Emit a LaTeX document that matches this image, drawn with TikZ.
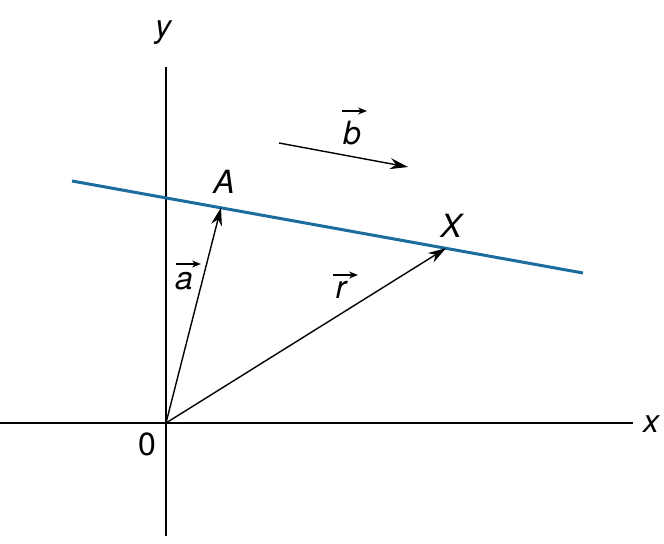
\documentclass[tikz,border=0pt]{standalone}
\usepackage{fontspec}
\setmainfont{TeX Gyre Heros}
\usepackage{tikz}
\usetikzlibrary{arrows.meta}
\definecolor{lineblue}{RGB}{28,108,158}

\begin{document}
\begin{tikzpicture}[x=0.5pt,y=-0.5pt,
        axis/.style={line width=0.7pt},
        vec/.style={line width=0.7pt,-{Stealth[length=9pt,width=5.5pt]}},
        tinyvec/.style={line width=0.6pt,-{Stealth[length=4.5pt,width=3.5pt]}},
        lbl/.style={font=\fontsize{16}{19}\selectfont\itshape},
        num/.style={font=\fontsize{16}{19}\selectfont}]
        \useasboundingbox (0,0) rectangle (664,544);
        % axes
        \coordinate (O) at (166,423);
        \coordinate (xleft) at (0,423);
        \coordinate (xright) at (633,423);
        \coordinate (ybottom) at (166,536);
        \coordinate (ytop) at (166,67);
        \draw [axis] (xleft) -- (xright);
        \draw [axis] (ybottom) -- (ytop);
        \node [lbl] (xlab) at (651,424) {x};
        \node [lbl] (ylab) at (163,33) {y};
        \node [num] (olab) at (147,444) {0};
        % the line
        \coordinate (L1) at (72,181);
        \coordinate (L2) at (583,273);
        \draw [lineblue,line width=1.5pt] (L1) -- (L2);
        \coordinate (A) at (221,207.6);
        \coordinate (X) at (446,248.2);
        \node [lbl] (Alab) at (224,182) {A};
        \node [lbl] (Xlab) at (451,226) {X};
        % vectors
        \draw [vec] (O) -- (A);
        \draw [vec] (O) -- (X);
        \coordinate (b0) at (279,143);
        \coordinate (b1) at (408,167);
        \draw [vec] (b0) -- (b1);
        % vector names
        \foreach \n/\x/\y/\ax/\ay in {a/184/281/176/264, r/341/290/333/275, b/352/133/342/111}{
            \node [lbl,inner sep=0pt] (lab\n) at (\x,\y) {\n};
            \coordinate (tail\n) at (\ax,\ay);
            \coordinate (head\n) at (\ax+25,\ay);
            \draw [tinyvec] (tail\n) -- (head\n);
        }
\end{tikzpicture}
\end{document}
